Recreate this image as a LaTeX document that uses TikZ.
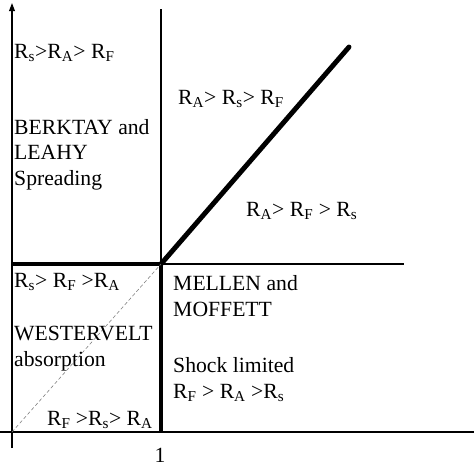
\documentclass[tikz,border=0pt]{standalone}
\usepackage{fontspec}
\setmainfont{Liberation Serif}
\usetikzlibrary{arrows.meta}
\newcommand{\R}[1]{R\textsubscript{#1}}

\begin{document}
\begin{tikzpicture}[
  x=0.03cm, y=-0.03cm,
  axis/.style={line width=1.1pt},
  bound/.style={line width=4.2pt},
  thinb/.style={line width=1.1pt},
  guide/.style={gray, line width=0.5pt, densely dashed},
  lbl/.style={font=\fontsize{18.5}{21.5}\selectfont, inner sep=0pt,
              align=left, anchor=base west},
]
\useasboundingbox (0,0) rectangle (474,474);
% corner points of the regions
\coordinate (O)  at (12,432);
\coordinate (yt) at (12,3);
\coordinate (yb) at (12,448);
\coordinate (xl) at (0,432);
\coordinate (xr) at (474,432);
\coordinate (P)  at (161,264);
\coordinate (Pt) at (161,9);
\coordinate (Pb) at (161,432);
\coordinate (Hl) at (12,264);
\coordinate (Hr) at (404,264);
\coordinate (D)  at (349,47);

% axes
\draw[axis] (xl) -- (xr);
\draw[axis, -{Triangle[length=7pt, width=5pt]}] (yb) -- (yt);
% region boundaries
\draw[thinb] (Pt) -- (P);
\draw[thinb] (P) -- (Hr);
\draw[bound] (Hl) -- (P) -- (Pb);
\draw[bound, line cap=round] (P) -- (D);
\draw[guide] (O) -- (P);

% labels (base = last line)
\node[lbl] (tl) at (14,58) {\R{s}>\R{A}> \R{F}};
\node[lbl] (bl) at (14,185) {BERKTAY and\\LEAHY\\Spreading};
\node[lbl] (up) at (178,104) {\R{A}> \R{s}> \R{F}};
\node[lbl] (lo) at (246,216) {\R{A}> \R{F} > \R{s}};
\node[lbl] (ml) at (14,287) {\R{s}> \R{F} >\R{A}};
\node[lbl] (wv) at (14,366) {WESTERVELT\\absorption};
\node[lbl, anchor=base east] (br) at (153,425) {\R{F} >\R{s}> \R{A}};
\node[lbl] (mm) at (173,316) {MELLEN and\\MOFFETT};
\node[lbl] (sl) at (173,398) {Shock limited\\\R{F} > \R{A} >\R{s}};
\node[lbl, anchor=base] (one) at (160,462) {1};
\end{tikzpicture}
\end{document}
